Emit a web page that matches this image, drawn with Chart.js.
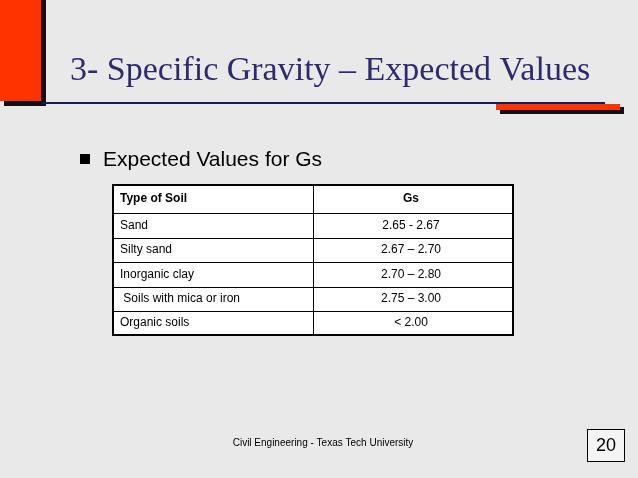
<!DOCTYPE html>
<html><head><meta charset="utf-8">
<script src="https://cdn.jsdelivr.net/npm/chart.js@4/dist/chart.umd.min.js"></script>
<style>html,body{margin:0;padding:0;background:#e9e9e9;}canvas{display:block}</style>
</head><body>
<canvas id="c" width="638" height="478"></canvas>
<script>
const title = "3- Specific Gravity \u2013 Expected Values";
const bullet = "Expected Values for Gs";
const headers = ["Type of Soil", "Gs"];
const soils = ["Sand", "Silty sand", "Inorganic clay", " Soils with mica or iron", "Organic soils"];
const gsValues = ["2.65 - 2.67", "2.67 \u2013 2.70", "2.70 \u2013 2.80", "2.75 \u2013 3.00", "< 2.00"];
const footer = "Civil Engineering - Texas Tech University";
const pageNo = "20";

const slidePlugin = {
  id: 'slide',
  beforeDraw(chart) {
    const ctx = chart.ctx;
    ctx.save();
    ctx.fillStyle = '#e9e9e9'; ctx.fillRect(0,0,638,478);
    ctx.fillStyle = '#111'; ctx.fillRect(4,0,42,106);
    ctx.fillStyle = '#ff3300'; ctx.fillRect(0,0,41,101);
    ctx.fillStyle = '#1a1a5e'; ctx.fillRect(42,102,563,2);
    ctx.fillStyle = '#111'; ctx.fillRect(500,107,124,7);
    ctx.fillStyle = '#ff3300'; ctx.fillRect(496,104,124,6);
    ctx.fillStyle = '#2d2a6e';
    ctx.font = '34px "Liberation Serif", serif';
    ctx.textBaseline = 'alphabetic'; ctx.textAlign = 'left';
    ctx.fillText(title, 70, 80);
    ctx.fillStyle = '#000'; ctx.fillRect(80,154,10,10);
    ctx.font = '21px "Liberation Sans", Arial, sans-serif';
    ctx.textBaseline = 'middle';
    ctx.fillText(bullet, 103, 160);
    const x0=113, x1=313, x2=513;
    const rowsY=[185,213,238,262,287,311,335];
    ctx.fillStyle='#fff'; ctx.fillRect(x0,185,x2-x0,150);
    ctx.strokeStyle='#000'; ctx.lineWidth=1;
    for (let i=1;i<rowsY.length-1;i++){ctx.beginPath();ctx.moveTo(x0,rowsY[i]+0.5);ctx.lineTo(x2,rowsY[i]+0.5);ctx.stroke();}
    ctx.beginPath();ctx.moveTo(x1+0.5,185);ctx.lineTo(x1+0.5,335);ctx.stroke();
    ctx.lineWidth=2; ctx.strokeRect(x0,185,x2-x0,150);
    ctx.fillStyle='#000';
    ctx.font='bold 12px "Liberation Sans", Arial, sans-serif';
    ctx.textAlign='left'; ctx.fillText(headers[0],120,(rowsY[0]+rowsY[1])/2);
    ctx.textAlign='center'; ctx.fillText(headers[1],411,(rowsY[0]+rowsY[1])/2);
    ctx.font='12px "Liberation Sans", Arial, sans-serif';
    soils.forEach((s,i)=>{
      const y=(rowsY[i+1]+rowsY[i+2])/2;
      ctx.textAlign='left'; ctx.fillText(s,120,y);
      ctx.textAlign='center'; ctx.fillText(gsValues[i],411,y);
    });
    ctx.font='10px "Liberation Sans", Arial, sans-serif';
    ctx.textAlign='center'; ctx.fillText(footer,323,443);
    ctx.fillStyle='#f4f4f4'; ctx.fillRect(587,429,38,33);
    ctx.lineWidth=1; ctx.strokeStyle='#000'; ctx.strokeRect(587.5,429.5,37,32);
    ctx.fillStyle='#000'; ctx.font='18px "Liberation Sans", Arial, sans-serif';
    ctx.fillText(pageNo,606,446);
    ctx.restore();
  }
};

new Chart(document.getElementById('c'), {
  type: 'bar',
  data: { labels: soils, datasets: [{ data: [], label: 'Gs' }] },
  options: {
    responsive: false, animation: false,
    plugins: { legend: { display: false }, tooltip: { enabled: false } },
    scales: { x: { display: false }, y: { display: false } }
  },
  plugins: [slidePlugin]
});
</script>
</body></html>
